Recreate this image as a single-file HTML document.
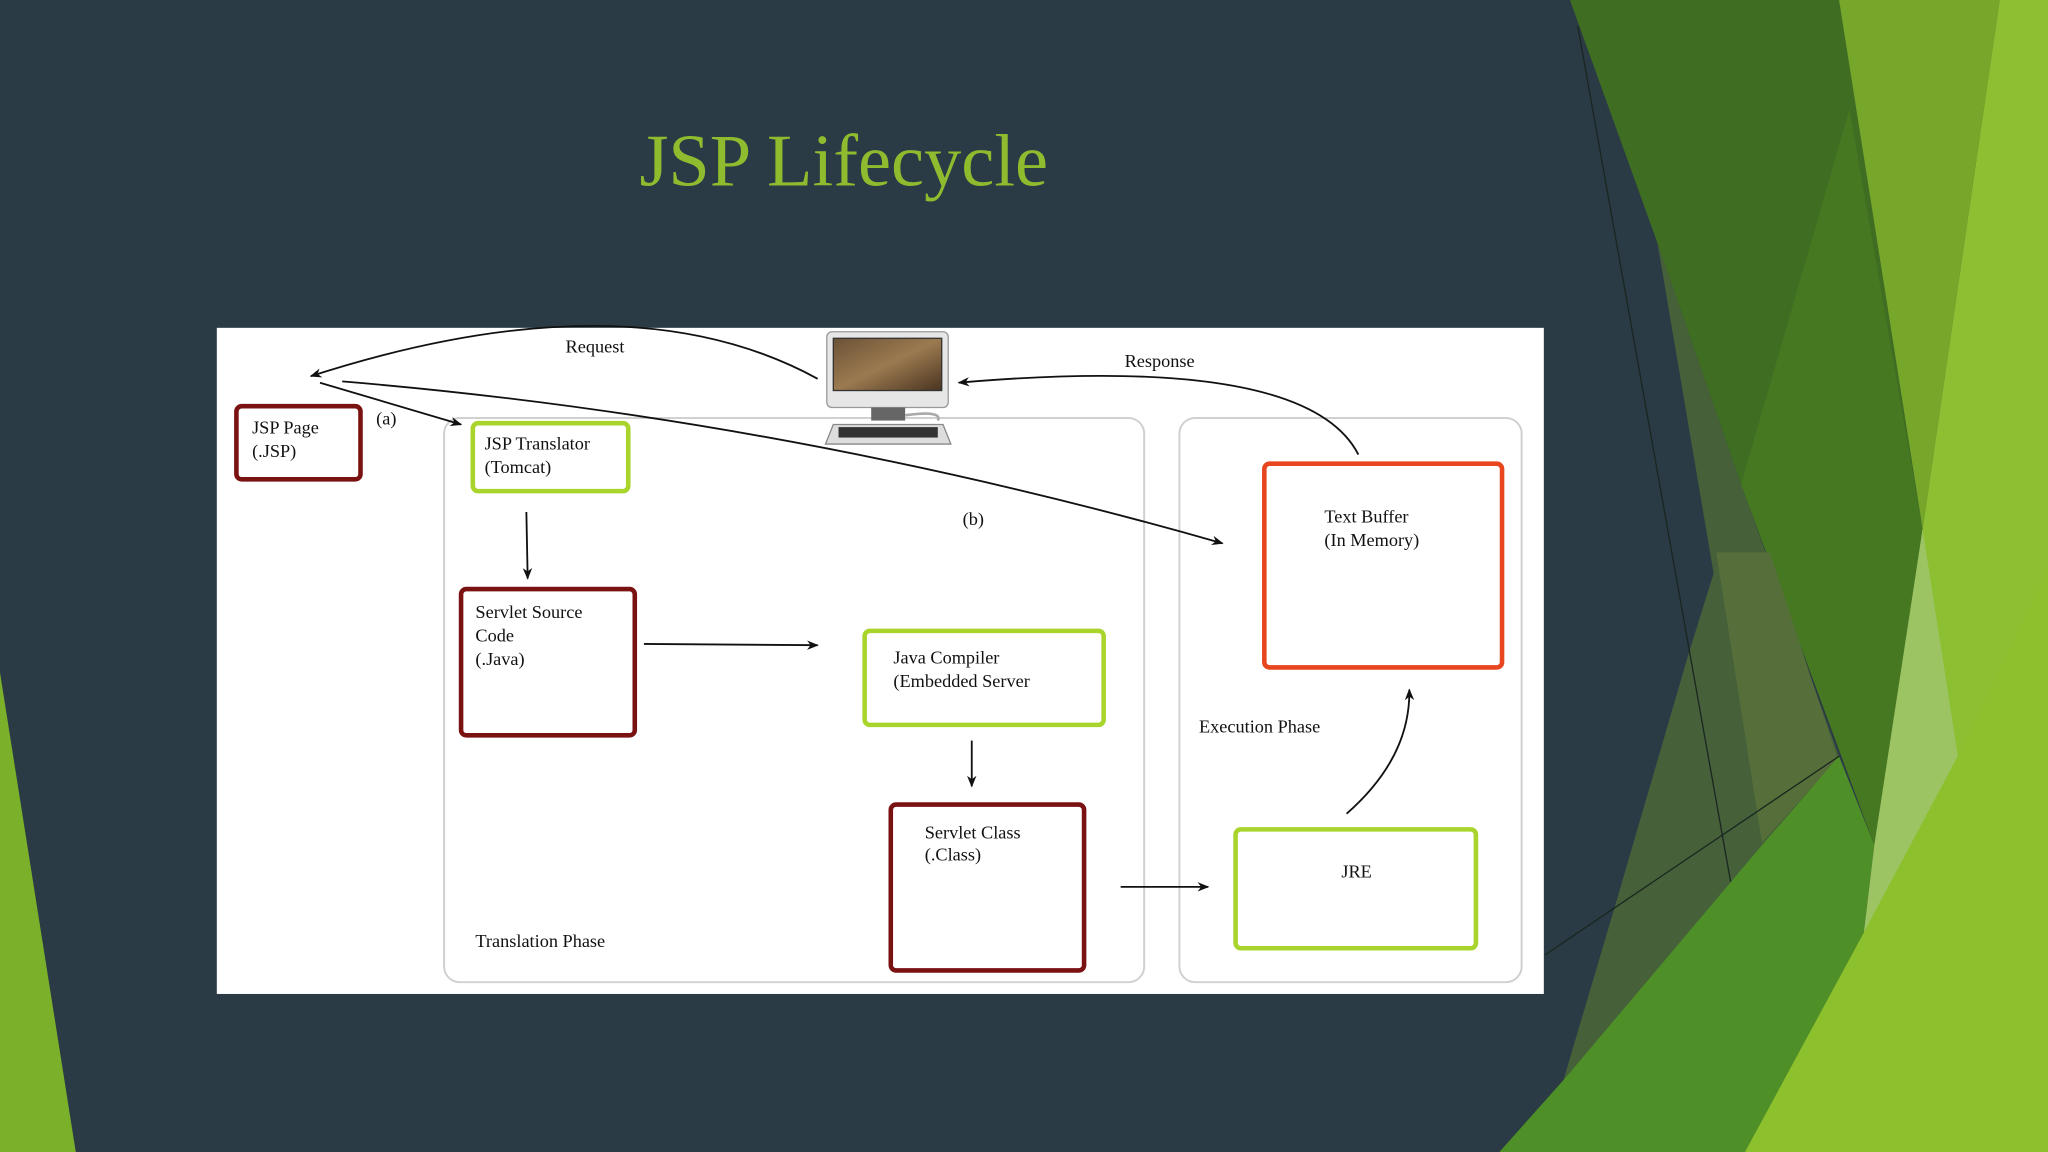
<!DOCTYPE html>
<html><head><meta charset="utf-8"><style>
html,body{margin:0;padding:0;background:#2b3b45;}
svg{display:block}
text{font-family:"Liberation Serif",serif;}
</style></head><body>
<svg width="2048" height="1152" viewBox="0 0 1568 882" xmlns="http://www.w3.org/2000/svg">
<defs>
<marker id="ah" viewBox="0 0 10 10" refX="9" refY="5" markerWidth="9" markerHeight="9" orient="auto" markerUnits="userSpaceOnUse"><path d="M0,1 L10,5 L0,9 L3,5 Z" fill="#111"/></marker>
<linearGradient id="scr" x1="0" y1="0" x2="1" y2="1"><stop offset="0" stop-color="#6b5236"/><stop offset="0.5" stop-color="#9b7a50"/><stop offset="1" stop-color="#4a3420"/></linearGradient>
</defs>
<rect width="1568" height="882" fill="#2b3b45"/>
<!-- right decoration -->
<polygon points="1202,0 1408,0 1472,405 1435,647 1333,371 1269,186" fill="#3f6e22"/>
<polygon points="1416,84 1472,405 1435,647 1333,371" fill="#467822"/>
<polygon points="1408,0 1531,0 1472,405" fill="#76a72a"/>
<polygon points="1531,0 1568,0 1568,882 1336,882 1427,714 1472,405" fill="#8cbf32"/>
<polygon points="1269,186 1333,371 1408,579 1349,647 1197,827 1237,692 1293,500 1312,439" fill="#46603a"/>
<polygon points="1314,423 1355,423 1407,581 1349,645" fill="#566f3a"/>
<polygon points="1408,579 1435,647 1427,714 1336,882 1148,882 1197,827 1349,647" fill="#4f8f28"/>
<polygon points="1472,405 1499,579 1427,714 1435,647" fill="#9cc462"/>
<polygon points="1499,579 1568,436 1568,882 1336,882 1427,714" fill="#8cc02c"/>
<line x1="1208" y1="20" x2="1325" y2="675" stroke="#1a2620" stroke-width="1"/>
<line x1="1183" y1="731" x2="1408" y2="579" stroke="#1a2620" stroke-width="1"/>
<!-- left decoration -->
<polygon points="0,515 58,882 0,882" fill="#7bb12a"/>
<!-- title -->
<text x="646" y="142" font-size="57" fill="#8fbc2f" text-anchor="middle">JSP Lifecycle</text>
<!-- white panel -->
<rect x="166" y="251" width="1016" height="510" fill="#fff"/>
<!-- containers -->
<rect x="340" y="320" width="536" height="432" rx="12" fill="none" stroke="#d0d0d0" stroke-width="1.5"/>
<rect x="903" y="320" width="262" height="432" rx="12" fill="none" stroke="#d0d0d0" stroke-width="1.5"/>
<!-- boxes -->
<g fill="none" stroke-width="3.5">
<rect x="181" y="311" width="95" height="56" rx="4" stroke="#7a1212"/>
<rect x="362" y="324" width="119" height="52" rx="4" stroke="#a8d42c"/>
<rect x="353" y="451" width="133" height="112" rx="4" stroke="#7a1212"/>
<rect x="662" y="483" width="183" height="72" rx="4" stroke="#a8d42c"/>
<rect x="682" y="616" width="148" height="127" rx="4" stroke="#7a1212"/>
<rect x="968" y="355" width="182" height="156" rx="4" stroke="#e8461e"/>
<rect x="946" y="635" width="184" height="91" rx="4" stroke="#a8d42c"/>
</g>
<g font-size="14" fill="#111">
<text x="193" y="332">JSP Page</text><text x="193" y="350">(.JSP)</text>
<text x="371" y="344">JSP Translator</text><text x="371" y="362">(Tomcat)</text>
<text x="364" y="473">Servlet Source</text><text x="364" y="491">Code</text><text x="364" y="509">(.Java)</text>
<text x="684" y="508">Java Compiler</text><text x="684" y="526">(Embedded Server</text>
<text x="708" y="642">Servlet Class</text><text x="708" y="659">(.Class)</text>
<text x="1014" y="400">Text Buffer</text><text x="1014" y="418">(In Memory)</text>
<text x="1027" y="672">JRE</text>
<text x="433" y="270">Request</text>
<text x="861" y="281">Response</text>
<text x="288" y="325">(a)</text>
<text x="737" y="402">(b)</text>
<text x="918" y="561">Execution Phase</text>
<text x="364" y="725">Translation Phase</text>
</g>
<!-- arrows -->
<g fill="none" stroke="#111" stroke-width="1.4" marker-end="url(#ah)">
<path d="M626,290 Q480,210 238,288"/>
<path d="M245,293 L353,325"/>
<path d="M262,292 Q600,320 936,416"/>
<path d="M1040,348 Q1000,270 734,293"/>
<path d="M403,392 L404,443"/>
<path d="M493,493 L626,494"/>
<path d="M744,567 L744,602"/>
<path d="M858,679 L925,679"/>
<path d="M1031,623 Q1080,580 1079,528"/>
</g>
<!-- computer -->
<g>
<rect x="633" y="254" width="93" height="58" rx="4" fill="#e6e6e6" stroke="#999" stroke-width="1"/>
<rect x="638" y="259" width="83" height="40" fill="url(#scr)" stroke="#333" stroke-width="1"/>
<rect x="667" y="312" width="26" height="10" fill="#666"/>
<path d="M693,318 Q722,314 718,322" stroke="#aaa" stroke-width="2" fill="none"/>
<polygon points="638,325 722,325 728,340 632,340" fill="#ddd" stroke="#888" stroke-width="1"/>
<rect x="642" y="327" width="76" height="8" fill="#333"/>
</g>
</svg>
</body></html>
